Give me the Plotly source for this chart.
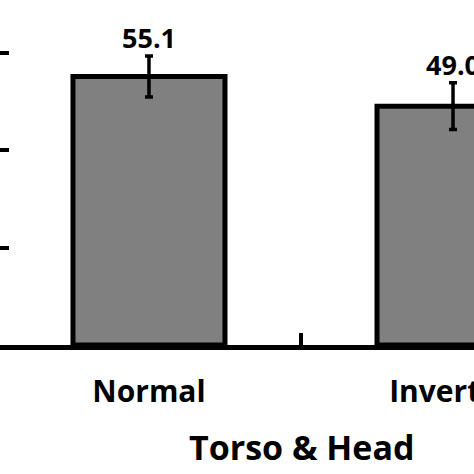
import plotly.graph_objects as go

categories = ["Normal", "Inverted"]
values = [55.1, 49.0]
errors = [4.2, 4.8]
value_labels = ["55.1", "49.0"]
group_title = "Torso & Head"
y_ticks = [0, 20, 40, 60]

FONT = "Open Sans"

fig = go.Figure()
fig.add_trace(go.Bar(
    x=categories, y=values, width=0.5,
    marker=dict(color="#808080", line=dict(color="black", width=5)),
    error_y=dict(type="data", array=errors, color="black", thickness=3.5, width=4),
    hoverinfo="skip",
))

for c, v, e, t in zip(categories, values, errors, value_labels):
    fig.add_annotation(x=c, y=v + e, text="<b>%s</b>" % t, showarrow=False,
                       xref="x", yref="y", yanchor="bottom", yshift=-2,
                       font=dict(family=FONT, size=27, color="black"))

fig.add_annotation(x=0.5, y=-0.295, xref="x", yref="paper", text="<b>%s</b>" % group_title,
                   showarrow=False, yanchor="middle",
                   font=dict(family=FONT, size=34, color="black"))

fig.update_layout(
    template="none",
    width=474, height=474,
    margin=dict(l=0, r=0, t=0, b=129),
    plot_bgcolor="white", paper_bgcolor="white",
    showlegend=False,
    font=dict(family=FONT, color="black"),
    xaxis=dict(range=[-0.49, 1.069], showline=True, linecolor="black", linewidth=5,
               ticks="inside", tickson="boundaries", ticklen=12, tickwidth=4, tickcolor="black",
               showgrid=False, zeroline=False, automargin=False,
               tickfont=dict(family=FONT, size=30, color="black"),
               tickvals=categories, ticktext=["<b>%s</b>" % c for c in categories],
               ticklabelstandoff=16),
    yaxis=dict(range=[0, 70.8], showline=False, ticks="inside", ticklen=9, tickwidth=4,
               tickcolor="black", tickvals=y_ticks, showticklabels=False,
               showgrid=False, zeroline=False, automargin=False),
)

fig.write_html("out.html")
